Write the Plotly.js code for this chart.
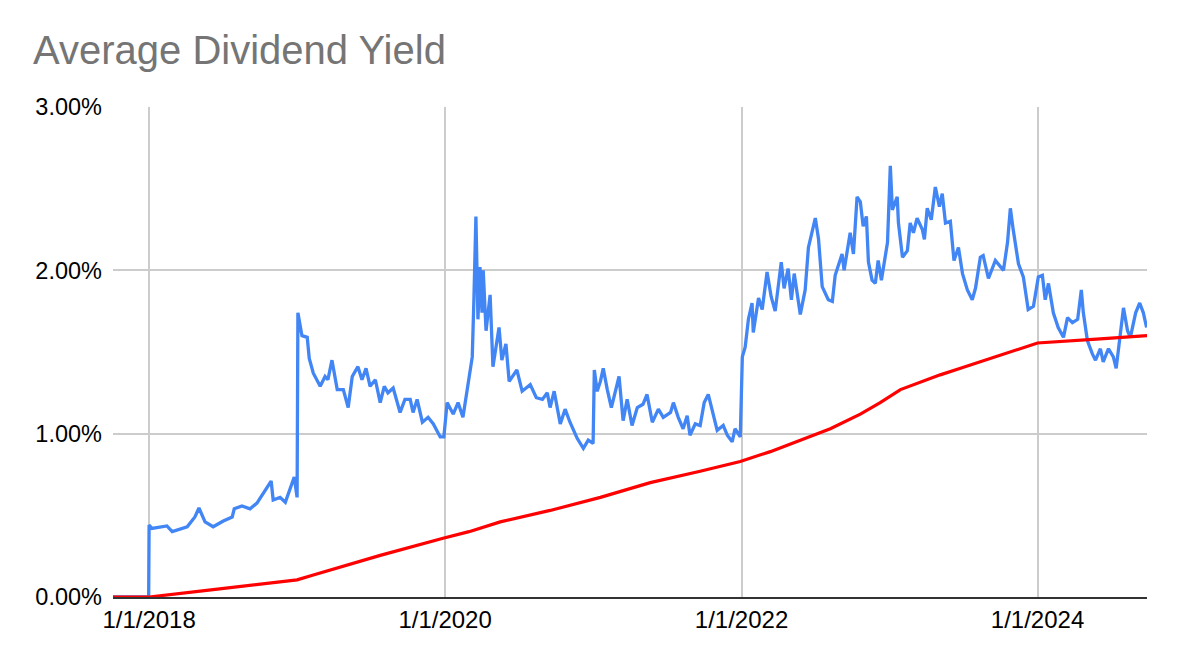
<!DOCTYPE html>
<html>
<head>
<meta charset="utf-8">
<script src="https://cdn.plot.ly/plotly-3.0.1.min.js"></script>
<style>
  html, body { margin: 0; padding: 0; background: #ffffff; }
  #chart { width: 1180px; height: 665px; }
</style>
</head>
<body>
<div id="chart"></div>
<script>
// ---- Data (values in percent) ----
const chartTitle = "Average Dividend Yield";

const xTickVals = ["2018-01-01", "2020-01-01", "2022-01-01", "2024-01-01"];
const xTickText = ["1/1/2018", "1/1/2020", "1/1/2022", "1/1/2024"];
const yTickVals = [0, 1, 2, 3];
const yTickText = ["0.00%", "1.00%", "2.00%", "3.00%"];

const yieldDates = [
  "2017-10-04","2017-12-31","2018-01-01","2018-01-08","2018-02-14","2018-02-27","2018-04-05","2018-04-24",
  "2018-05-04","2018-05-19","2018-06-08","2018-07-03","2018-07-25","2018-07-30","2018-08-18","2018-09-07",
  "2018-09-24","2018-10-09","2018-10-29","2018-11-03","2018-11-20","2018-12-03","2018-12-15","2018-12-25",
  "2019-01-01","2019-01-03","2019-01-13","2019-01-26","2019-01-31","2019-02-10","2019-02-27","2019-03-11",
  "2019-03-18","2019-03-28","2019-04-10","2019-04-25","2019-05-07","2019-05-17","2019-05-31","2019-06-10",
  "2019-06-20","2019-06-30","2019-07-13","2019-07-25","2019-08-04","2019-08-13","2019-08-26","2019-09-12",
  "2019-09-24","2019-10-07","2019-10-14","2019-10-24","2019-11-06","2019-11-20","2019-12-03","2019-12-20",
  "2019-12-29","2020-01-06","2020-01-21","2020-02-02","2020-02-14","2020-02-24","2020-02-29","2020-03-08",
  "2020-03-12","2020-03-17","2020-03-22","2020-03-27","2020-04-01","2020-04-04","2020-04-11","2020-04-21",
  "2020-04-28","2020-05-06","2020-05-13","2020-05-20","2020-05-30","2020-06-07","2020-06-26","2020-07-09",
  "2020-07-29","2020-08-13","2020-08-28","2020-09-09","2020-09-16","2020-09-26","2020-10-11","2020-10-23",
  "2020-11-04","2020-11-22","2020-12-07","2020-12-19","2020-12-31","2021-01-03","2021-01-10","2021-01-18",
  "2021-01-25","2021-02-04","2021-02-14","2021-02-23","2021-03-05","2021-03-15","2021-03-25","2021-04-06",
  "2021-04-19","2021-05-03","2021-05-13","2021-05-26","2021-06-10","2021-06-22","2021-07-10","2021-07-17",
  "2021-07-29","2021-08-10","2021-08-20","2021-08-27","2021-09-09","2021-09-21","2021-10-01","2021-10-11",
  "2021-10-23","2021-11-02","2021-11-17","2021-11-27","2021-12-09","2021-12-16","2021-12-29","2022-01-03",
  "2022-01-10","2022-01-18","2022-01-27","2022-01-30","2022-02-12","2022-02-21","2022-03-05","2022-03-15",
  "2022-03-25","2022-04-09","2022-04-16","2022-04-26","2022-05-04","2022-05-11","2022-05-26","2022-06-07",
  "2022-06-15","2022-07-02","2022-07-10","2022-07-19","2022-08-03","2022-08-13","2022-08-20","2022-09-06",
  "2022-09-11","2022-09-26","2022-10-04","2022-10-13","2022-10-21","2022-10-28","2022-11-05","2022-11-10",
  "2022-11-19","2022-11-27","2022-12-04","2022-12-12","2022-12-27","2023-01-03","2023-01-08","2023-01-20",
  "2023-01-23","2023-02-02","2023-02-14","2023-02-21","2023-03-01","2023-03-10","2023-03-23","2023-03-28",
  "2023-04-04","2023-04-14","2023-04-24","2023-05-04","2023-05-11","2023-05-19","2023-05-31","2023-06-09",
  "2023-06-20","2023-06-30","2023-07-12","2023-07-24","2023-08-01","2023-08-13","2023-08-20","2023-09-02",
  "2023-09-19","2023-10-01","2023-10-09","2023-10-19","2023-10-26","2023-11-02","2023-11-15","2023-11-27",
  "2023-12-09","2023-12-22","2024-01-03","2024-01-13","2024-01-20","2024-01-28","2024-02-09","2024-02-21",
  "2024-03-05","2024-03-15","2024-03-27","2024-04-09","2024-04-18","2024-04-23","2024-05-03","2024-05-15",
  "2024-05-23","2024-06-04","2024-06-11","2024-06-24","2024-07-06","2024-07-13","2024-07-23","2024-07-31",
  "2024-08-10","2024-08-17","2024-08-30","2024-09-09","2024-09-18","2024-09-26"
];
const yieldValues = [
  0,0,0.44,0.42,0.435,0.40,0.43,0.49,
  0.545,0.46,0.43,0.465,0.49,0.54,0.557,0.54,
  0.575,0.637,0.71,0.594,0.61,0.58,0.667,0.735,
  0.61,1.74,1.60,1.59,1.46,1.37,1.29,1.35,
  1.33,1.45,1.27,1.27,1.16,1.35,1.41,1.33,
  1.40,1.29,1.33,1.19,1.29,1.25,1.28,1.13,
  1.21,1.21,1.13,1.21,1.07,1.10,1.06,0.98,
  0.98,1.19,1.12,1.19,1.10,1.25,1.32,1.47,
  1.82,2.33,1.70,2.02,1.74,2.00,1.63,1.85,
  1.41,1.53,1.65,1.45,1.55,1.32,1.39,1.26,
  1.30,1.22,1.21,1.25,1.16,1.26,1.06,1.15,
  1.07,0.97,0.91,0.96,0.94,1.39,1.26,1.32,
  1.40,1.27,1.16,1.25,1.35,1.08,1.21,1.05,
  1.16,1.18,1.24,1.07,1.15,1.10,1.13,1.19,
  1.10,1.03,1.11,0.99,1.06,1.05,1.19,1.24,
  1.13,1.02,1.05,0.99,0.95,1.03,0.98,1.47,
  1.53,1.70,1.80,1.62,1.83,1.76,1.99,1.84,
  1.75,2.05,1.89,2.01,1.82,1.98,1.73,1.88,
  2.14,2.32,2.19,1.90,1.82,1.81,1.97,2.10,
  2.00,2.23,2.10,2.45,2.42,2.27,2.33,2.05,
  1.94,1.92,2.06,1.94,2.17,2.64,2.37,2.45,
  2.29,2.08,2.12,2.29,2.23,2.32,2.25,2.19,
  2.38,2.31,2.51,2.39,2.47,2.29,2.30,2.06,
  2.14,1.98,1.88,1.82,1.89,2.08,2.09,1.95,
  2.06,2.02,2.00,2.17,2.38,2.25,2.04,1.96,
  1.76,1.78,1.96,1.97,1.82,1.92,1.74,1.65,
  1.59,1.71,1.68,1.70,1.88,1.74,1.57,1.49,
  1.45,1.52,1.44,1.52,1.47,1.40,1.59,1.77,
  1.63,1.59,1.74,1.80,1.74,1.65
];

const trendDates = [
  "2017-10-04","2018-01-01","2018-06-08","2019-01-01","2019-02-10","2019-07-25","2019-12-27",
  "2020-02-29","2020-05-16","2020-09-16","2021-01-18","2021-05-21","2021-09-21","2021-12-29",
  "2022-03-13","2022-05-26","2022-08-08","2022-10-21","2022-12-09","2023-01-28","2023-05-06",
  "2023-06-25","2023-10-01","2023-12-22","2024-01-01","2024-06-04","2024-09-27"
];
const trendValues = [
  0,0,0.045,0.105,0.135,0.255,0.36,
  0.40,0.46,0.53,0.61,0.70,0.77,0.83,
  0.89,0.96,1.03,1.12,1.19,1.27,1.36,
  1.40,1.48,1.55,1.555,1.58,1.60
];

const xRange = ["2017-10-04", "2024-09-27"];
const yRange = [0, 3];

// ---- Plot ----
const FONT = "Liberation Sans, Arial, Helvetica, sans-serif";

const traces = [
  {
    type: "scatter", mode: "lines",
    x: yieldDates, y: yieldValues,
    line: { color: "#4285F4", width: 3.3 },
    hoverinfo: "skip", showlegend: false
  },
  {
    type: "scatter", mode: "lines",
    x: trendDates, y: trendValues,
    line: { color: "#FF0000", width: 3.2 },
    hoverinfo: "skip", showlegend: false
  }
];

const layout = {
  width: 1180, height: 665,
  paper_bgcolor: "#ffffff", plot_bgcolor: "#ffffff",
  margin: { l: 113, r: 33, t: 107, b: 68, pad: 0 },
  font: { family: FONT, color: "#000000" },
  title: {
    text: chartTitle,
    font: { family: FONT, size: 40, color: "#757575" },
    xref: "container", yref: "container",
    x: 33 / 1180, xanchor: "left",
    y: 1 - 50 / 665, yanchor: "middle"
  },
  xaxis: {
    type: "date",
    range: xRange,
    tickmode: "array",
    tickvals: xTickVals,
    ticktext: xTickText,
    tickfont: { family: FONT, size: 24, color: "#000000" },
    showgrid: true, gridcolor: "#cccccc", gridwidth: 2,
    zeroline: false,
    showline: true, linecolor: "#333333", linewidth: 2,
    ticks: "", layer: "below traces",
    fixedrange: true
  },
  yaxis: {
    range: yRange,
    tickmode: "array",
    tickvals: yTickVals,
    ticktext: yTickText,
    tickfont: { family: FONT, size: 23.5, color: "#000000" },
    showgrid: true, gridcolor: "#cccccc", gridwidth: 2,
    zeroline: false, showline: false,
    ticks: "", ticklabelstandoff: 10,
    layer: "below traces",
    fixedrange: true
  }
};

Plotly.newPlot("chart", traces, layout, { displayModeBar: false, staticPlot: true });
</script>
</body>
</html>
